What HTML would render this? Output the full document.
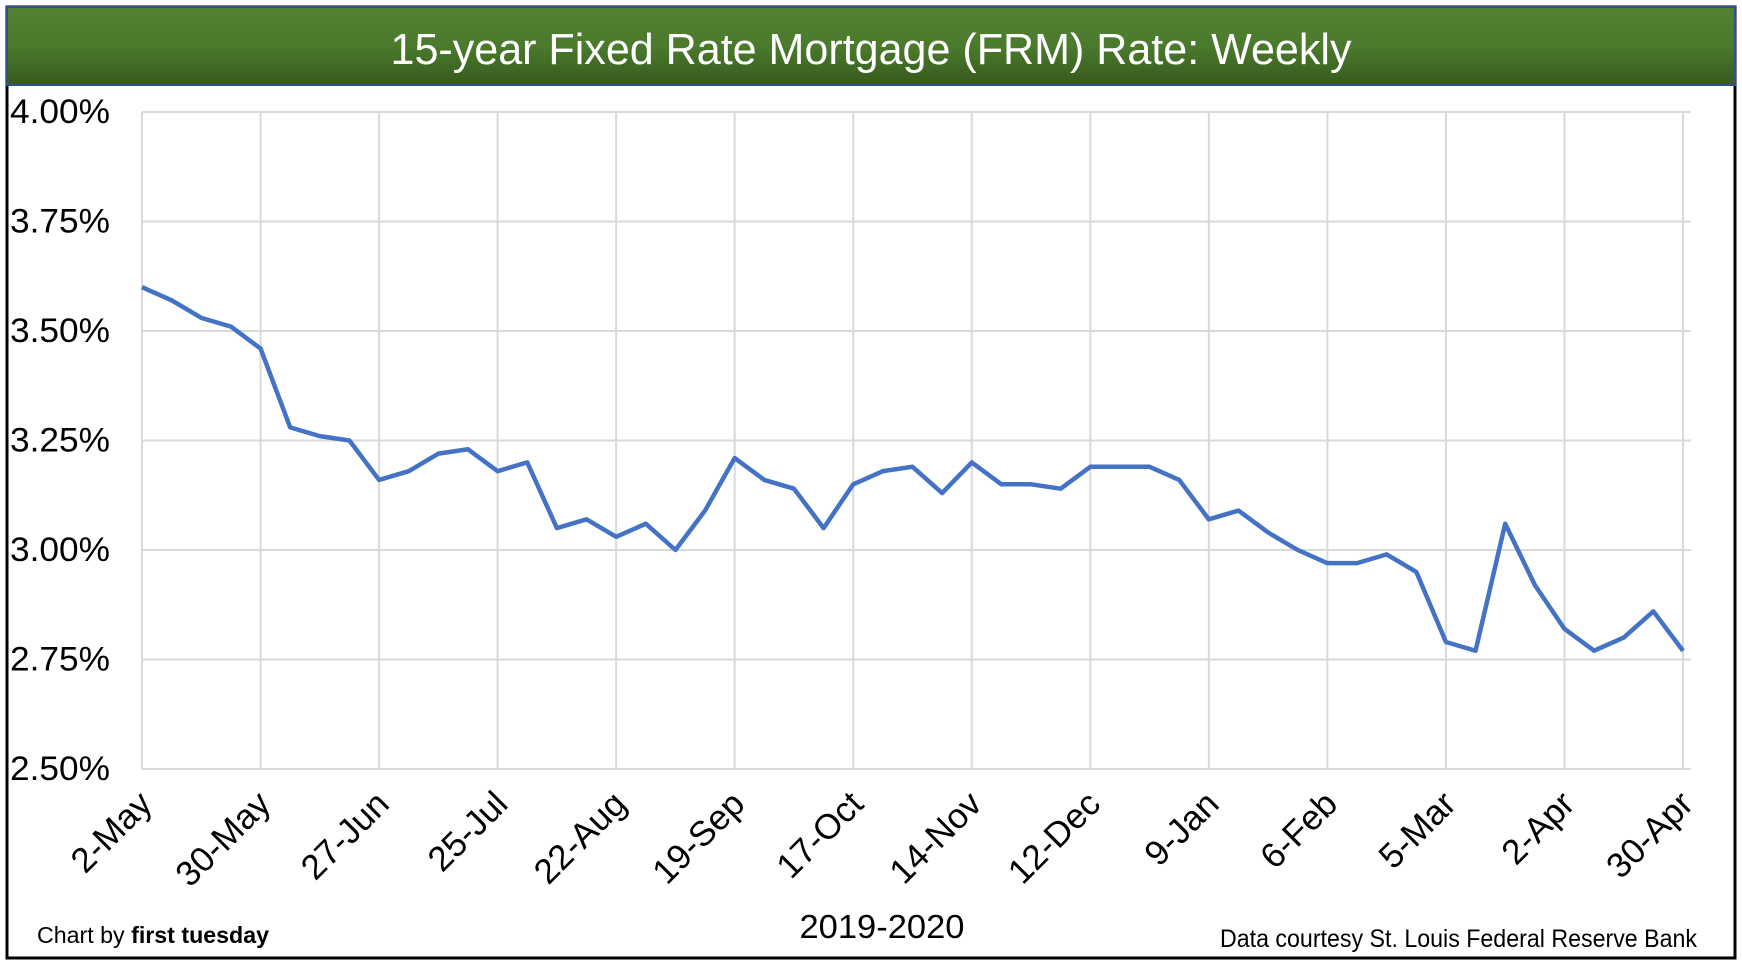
<!DOCTYPE html>
<html><head><meta charset="utf-8"><style>
html,body{margin:0;padding:0;background:#fff;}
svg{display:block;font-family:"Liberation Sans",sans-serif;}
</style></head><body>
<svg id="chart" width="1742" height="964" viewBox="0 0 1742 964">
<defs><linearGradient id="tg" x1="0" y1="0" x2="0" y2="1"><stop offset="0" stop-color="#548235"/><stop offset="0.5" stop-color="#4a7a2c"/><stop offset="1" stop-color="#375a1e"/></linearGradient></defs>
<rect x="7" y="7" width="1728" height="951" fill="#fff" stroke="#000" stroke-width="3"/>
<rect x="7" y="7" width="1728" height="78" fill="url(#tg)" stroke="#2f528f" stroke-width="2"/>
<text x="871" y="64" fill="#fff" font-size="44" text-anchor="middle" textLength="961" lengthAdjust="spacingAndGlyphs">15-year Fixed Rate Mortgage (FRM) Rate: Weekly</text>
<g id="grid"></g><g id="axes"></g><g id="series"></g>
<text x="882" y="938" font-size="33" text-anchor="middle" textLength="165" lengthAdjust="spacingAndGlyphs">2019-2020</text>
<text x="37" y="943" font-size="23" textLength="232" lengthAdjust="spacingAndGlyphs">Chart by <tspan font-weight="bold">first tuesday</tspan></text>
<text x="1697" y="947" font-size="25" text-anchor="end" textLength="477" lengthAdjust="spacingAndGlyphs">Data courtesy St. Louis Federal Reserve Bank</text>
</svg>
<script>
const xLabels=["2-May","30-May","27-Jun","25-Jul","22-Aug","19-Sep","17-Oct","14-Nov","12-Dec","9-Jan","6-Feb","5-Mar","2-Apr","30-Apr"];
const yTicks=[2.50,2.75,3.00,3.25,3.50,3.75,4.00];
const rates=[3.60,3.57,3.53,3.51,3.46,3.28,3.26,3.25,3.16,3.18,3.22,3.23,3.18,3.20,3.05,3.07,3.03,3.06,3.00,3.09,3.21,3.16,3.14,3.05,3.15,3.18,3.19,3.13,3.20,3.15,3.15,3.14,3.19,3.19,3.19,3.16,3.07,3.09,3.04,3.00,2.97,2.97,2.99,2.95,2.79,2.77,3.06,2.92,2.82,2.77,2.80,2.86,2.77];
const NS='http://www.w3.org/2000/svg';
const L=142,R=1683,T=112,B=769,yMin=2.5,yMax=4.0;
const weeks=rates.length-1;
function xs(i){return L+(R-L)*i/weeks;}
function ys(v){return B-(v-yMin)/(yMax-yMin)*(B-T);}
function mk(tag,attrs,parent){const e=document.createElementNS(NS,tag);for(const k in attrs)e.setAttribute(k,attrs[k]);parent.appendChild(e);return e;}
const grid=document.getElementById('grid'),axes=document.getElementById('axes'),ser=document.getElementById('series');
yTicks.forEach(v=>{
 const l=mk('line',{x1:L,x2:R+8,y1:ys(v),y2:ys(v),stroke:'#d9d9d9','stroke-width':2},grid);
 
 
 const t=mk('text',{x:10,y:ys(v)+11,'font-size':34,textLength:100,lengthAdjust:'spacingAndGlyphs'},axes);
 t.textContent=v.toFixed(2)+'%';
 
 
});
xLabels.forEach((s,k)=>{
 const x=xs(k*4);
 const l=mk('line',{x1:x,x2:x,y1:T,y2:B,stroke:'#d9d9d9','stroke-width':2},grid);
 
 
 const t=mk('text',{x:0,y:0,'font-size':35,'text-anchor':'end',transform:'translate('+(x+12)+',806) rotate(-45)'},axes);
 t.textContent=s;
 
 
});
const p=mk('polyline',{points:rates.map((v,i)=>xs(i)+','+ys(v)).join(' '),fill:'none',stroke:'#4472c4','stroke-width':4.5,'stroke-linejoin':'round'},ser);


</script>
</body></html>
